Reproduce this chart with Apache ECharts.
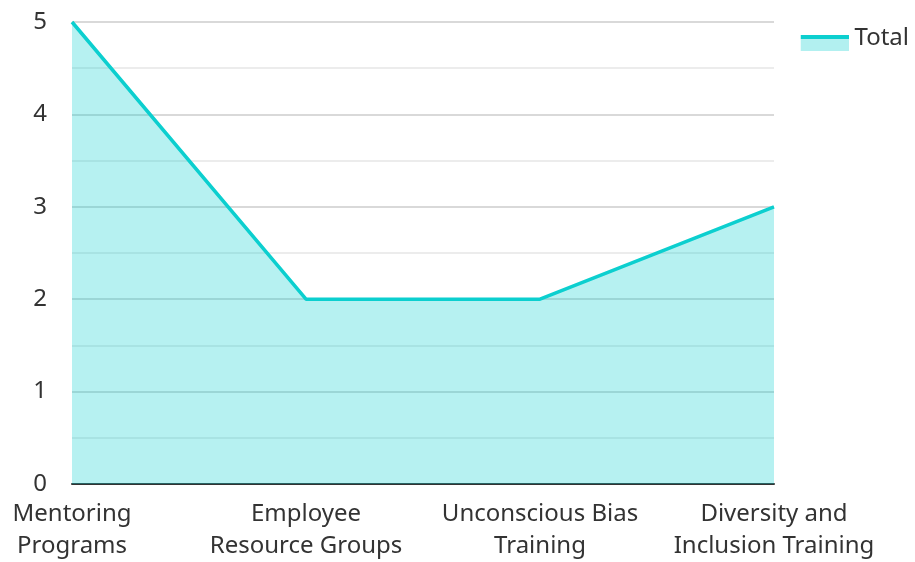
<!DOCTYPE html>
<html>
<head>
<meta charset="utf-8">
<script src="https://cdn.jsdelivr.net/npm/echarts@6/dist/echarts.min.js"></script>
<style>html,body{margin:0;padding:0;background:#fff;}#c{width:915px;height:562px;}</style>
</head>
<body>
<div id="c"></div>
<script>
var categories = ['Mentoring\nPrograms', 'Employee\nResource Groups', 'Unconscious Bias\nTraining', 'Diversity and\nInclusion Training'];
var totalValues = [5, 2, 2, 3];
var seriesName = 'Total';

var lineColor = '#0ccfcf';
var iconSvg = '<svg xmlns="http://www.w3.org/2000/svg" width="49" height="26" viewBox="0 0 49 26"><rect x="0" y="14" width="49" height="12" fill="#b2f0f0"/><rect x="0" y="10" width="49" height="4" fill="' + lineColor + '"/></svg>';
var iconUri = 'image://data:image/svg+xml;charset=utf-8,' + encodeURIComponent(iconSvg);

var chart = echarts.init(document.getElementById('c'));
chart.setOption({
  animation: false,
  textStyle: { fontFamily: 'Noto Sans' },
  grid: { left: 72, right: 141, top: 22, bottom: 74, containLabel: false },
  legend: {
    right: 1, top: 20,
    itemWidth: 49, itemHeight: 26, itemGap: 9,
    icon: iconUri,
    textStyle: { fontSize: 24, color: '#333', fontFamily: 'Noto Sans' },
    data: [{ name: seriesName, icon: iconUri }]
  },
  xAxis: {
    type: 'category',
    data: categories,
    boundaryGap: false,
    axisLine: { show: true, lineStyle: { color: '#333', width: 2 } },
    axisTick: { show: false },
    axisLabel: { interval: 0, fontSize: 24, color: '#333', lineHeight: 32, margin: 14, fontFamily: 'Noto Sans' },
    splitLine: { show: false }
  },
  yAxis: {
    type: 'value',
    min: 0, max: 5, interval: 1,
    axisLine: { show: false },
    axisTick: { show: false },
    axisLabel: { fontSize: 24, color: '#333', margin: 25, fontFamily: 'Noto Sans' },
    splitLine: { show: true, lineStyle: { color: '#cccccc', width: 1.5 } },
    minorTick: { show: false, splitNumber: 2 },
    minorSplitLine: { show: true, lineStyle: { color: '#e6e6e6', width: 1.5 } }
  },
  series: [{
    name: seriesName,
    type: 'line',
    data: totalValues,
    showSymbol: false,
    symbol: 'none',
    lineStyle: { color: lineColor, width: 3.5 },
    itemStyle: { color: lineColor },
    areaStyle: { color: lineColor, opacity: 0.3 }
  }]
});
</script>
</body>
</html>
